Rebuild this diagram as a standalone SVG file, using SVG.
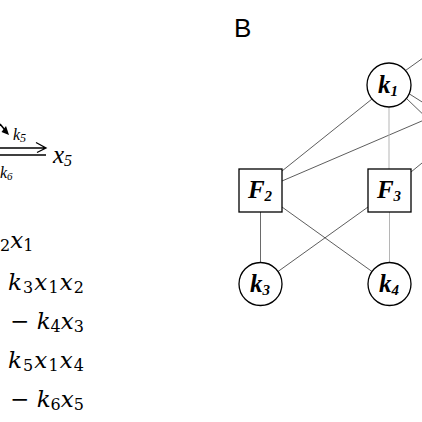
<svg xmlns="http://www.w3.org/2000/svg" width="422" height="422" viewBox="0 0 422 422">
<style>
.nd{fill:#fff;stroke:#000;stroke-width:1.3}
.lb{font-family:"Liberation Serif","Times New Roman",serif;font-weight:bold;font-style:italic;font-size:25px;fill:#000}
.sb{font-size:15px}
.eq{font-family:"DejaVu Serif","Liberation Serif",serif;font-style:italic;font-size:23px;fill:#000}
.up{font-style:normal;font-size:16px}
.rx{font-family:"Liberation Serif","Times New Roman",serif;font-style:italic;fill:#000}
.c{stroke:#333;stroke-width:0.8;fill:none}
.g{stroke:#b5b5b5;stroke-width:1;fill:none}
</style>
<rect width="422" height="422" fill="#fff"/>
<g id="panelA">
<path d="M0,124 L5,130" stroke="#000" stroke-width="1.5"/>
<polygon points="9,135 1.5,132 6,126" fill="#000"/>
<text class="rx" x="13" y="140" font-size="16">k<tspan font-size="12" dy="2">5</tspan></text>
<path d="M0,148 H46 M36,142.5 L46,148 L37,152.5 M0,155 H46" stroke="#000" stroke-width="1.3" fill="none"/>
<text class="rx" x="53" y="163" font-size="25">x<tspan font-size="16" dy="3">5</tspan></text>
<text class="rx" x="0" y="178" font-size="16">k<tspan font-size="11" dy="2">6</tspan></text>
<text class="eq" x="0" y="248"><tspan class="up" dy="3">2</tspan><tspan dy="-3">x</tspan><tspan class="up" dy="3">1</tspan></text>
<text class="eq" x="8" y="290" textLength="76" lengthAdjust="spacing">k<tspan class="up" dy="3">3</tspan><tspan dy="-3">x</tspan><tspan class="up" dy="3">1</tspan><tspan dy="-3">x</tspan><tspan class="up" dy="3">2</tspan></text>
<text class="eq" x="10" y="329" textLength="74" lengthAdjust="spacing"><tspan font-style="normal">− </tspan>k<tspan class="up" dy="3">4</tspan><tspan dy="-3">x</tspan><tspan class="up" dy="3">3</tspan></text>
<text class="eq" x="8" y="368" textLength="76" lengthAdjust="spacing">k<tspan class="up" dy="3">5</tspan><tspan dy="-3">x</tspan><tspan class="up" dy="3">1</tspan><tspan dy="-3">x</tspan><tspan class="up" dy="3">4</tspan></text>
<text class="eq" x="10" y="407" textLength="74" lengthAdjust="spacing"><tspan font-style="normal">− </tspan>k<tspan class="up" dy="3">6</tspan><tspan dy="-3">x</tspan><tspan class="up" dy="3">5</tspan></text>
</g>
<text x="234" y="37" font-family="Liberation Sans, Arial, sans-serif" font-size="26" fill="#000">B</text>
<g id="connectors">
<line class="c" x1="282" y1="171" x2="372" y2="99"/>
<line class="c" x1="282" y1="181" x2="430" y2="117.5"/>
<line class="g" x1="389" y1="107" x2="389" y2="169"/>
<line class="g" x1="389.5" y1="212" x2="389.5" y2="262.5"/>
<line class="c" x1="260.5" y1="212" x2="260.5" y2="262.5" style="stroke:#444"/>
<line class="c" x1="282" y1="207" x2="372" y2="271.5"/>
<line class="c" x1="368" y1="207" x2="278" y2="271.5"/>
<line class="c" x1="405.5" y1="70.5" x2="430" y2="53"/>
<line class="c" x1="409.5" y1="94" x2="430" y2="107"/>
<line class="c" x1="406.5" y1="98.5" x2="430" y2="121"/>
<line class="c" x1="411" y1="172" x2="430" y2="156.5"/>
</g>
<g id="k1"><circle class="nd" cx="389" cy="85" r="22"/><text class="lb" x="388" y="93" text-anchor="middle">k<tspan class="sb" dy="3">1</tspan></text></g>
<g id="F2"><rect class="nd" x="239" y="169" width="43" height="43"/><text class="lb" x="260" y="198" text-anchor="middle">F<tspan class="sb" dy="3">2</tspan></text></g>
<g id="F3"><rect class="nd" x="368" y="169" width="43" height="43"/><text class="lb" x="389" y="198" text-anchor="middle">F<tspan class="sb" dy="3">3</tspan></text></g>
<g id="k3"><circle class="nd" cx="260.5" cy="284" r="21.5"/><text class="lb" x="260" y="292" text-anchor="middle">k<tspan class="sb" dy="3">3</tspan></text></g>
<g id="k4"><circle class="nd" cx="389.5" cy="284" r="21.5"/><text class="lb" x="389" y="292" text-anchor="middle">k<tspan class="sb" dy="3">4</tspan></text></g>
</svg>
